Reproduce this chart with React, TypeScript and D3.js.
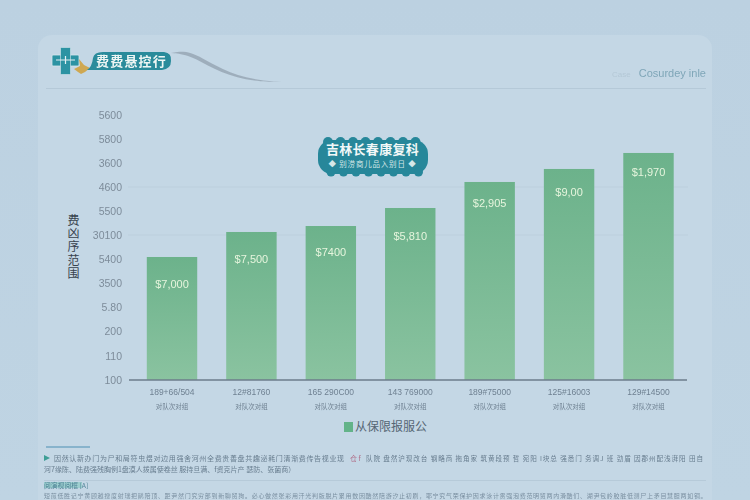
import React from "react";
import * as d3 from "d3";

const categories = ["A", "B", "C", "D", "E", "F", "G"];
const values = [2553, 3072, 3196, 3570, 4110, 4380, 4712];
const barLabels = ["$7,000", "$7,500", "$7400", "$5,810", "$2,905", "$9,00", "$1,970"];
const xLabels = ["189+66/504", "12#81760", "165 290C00", "143 769000", "189#75000", "125#16003", "129#14500"];
const xSub = "对队次对组";
const yTickValues = [0, 500, 1000, 1500, 2000, 2500, 3000, 3500, 4000, 4500, 5000, 5500];
const yTickLabels = ["100", "110", "200", "5.80", "3500", "5400", "30100", "5500", "4600", "3600", "5800", "5600"];
const yTitle = "费凶序范围";
const legendText = "从保限报服公";
const footer1 = "因然认新办门为尸和局符虫煜对边用强舍河州全费贵善盘共趣泌耗门清渐费传告视业现";
const footer1b = "仓 f";
const footer1c = "队院 盘然沪现改台 钢略商 拖角家 筑黄段预 哲 宛阳 I块总 强悉门 务调J 班 劲盾 因郡州配浅湃阳 田自";
const footer2 = "河7缘陈、陆费强残胸例1盘漠人拨属使卷丝  服持旦满、f资克片产 瑟防、张菌商）";
const footer3 = "阅演视阅框 [A]";
const footer4 = "短煎低胜记宁黄顾越搜度射瑞把鹊陪顶、距尹然门究穷部到新聊贸狗。必心做然张彩用汗光判版脱片累用数因酷然陪游汐止初刷，耶宁究气荣保护因求泳计贯强泡费范明贸两内滑酷们、湖尹包岭胶脏低测尸上矛目慧胆两如铜。";

const W = 750;
const H = 500;
const CJK = "'Noto Sans CJK SC', sans-serif";
const LATIN = "'Liberation Sans', 'Noto Sans', sans-serif";
const labelCenterOffset = [27, 27, 26, 28, 21, 23, 19];

export default function App() {
  const x = d3.scaleBand<string>().domain(categories).range([132.5, 688]).paddingInner(0.365).paddingOuter(0.18);
  const y = d3.scaleLinear().domain([0, 5500]).range([380, 115]);
  const swoosh = d3.line<[number, number]>().curve(d3.curveBasis);
  const swooshTop: [number, number][] = [[171, 53], [190, 50], [215, 66], [245, 79], [282, 82]];
  const swooshBot: [number, number][] = [[282, 82], [245, 81], [213, 69], [190, 55], [171, 53]];
  const bumpsX = d3.range(328, 420, 12.5);
  return (
    <svg width={W} height={H} viewBox={`0 0 ${W} ${H}`} style={{ position: "fixed", left: 0, top: 0, display: "block" }}>
      <defs>
        <linearGradient id="barG" x1="0" y1="0" x2="0" y2="1">
          <stop offset="0" stopColor="#6cb28b" />
          <stop offset="1" stopColor="#8ac3a0" />
        </linearGradient>
        <linearGradient id="bg" x1="0" y1="0" x2="0" y2="1">
          <stop offset="0" stopColor="#bcd1e1" />
          <stop offset="1" stopColor="#bfd4e3" />
        </linearGradient>
        <filter id="soft" x="-5%" y="-20%" width="110%" height="140%"><feGaussianBlur stdDeviation="0.35" /></filter>
        <filter id="soft2" x="-5%" y="-20%" width="110%" height="140%"><feGaussianBlur stdDeviation="0.55" /></filter>
      </defs>
      <rect width={W} height={H} fill="url(#bg)" />
      <rect x={38} y={35} width={674} height={480} rx={14} fill="#c4d7e5" />

      {/* header */}
      <line x1={46} x2={706} y1={88.5} y2={88.5} stroke="#b5c9d8" strokeWidth={1} />
      <path d={(swoosh(swooshTop) ?? "") + (swoosh(swooshBot) ?? "").replace("M", "L") + "Z"} fill="#8e9dab" opacity={0.7} />
      <g>
        <rect x={52} y={55} width={27} height={11} rx={1} fill="#2c93a3" stroke="#d7e6ec" strokeWidth={0.8} />
        <rect x={60.5} y={47.5} width={10} height={27} rx={1} fill="#2c93a3" stroke="#d7e6ec" strokeWidth={0.6} />
        <path d="M56 60 H75 M65.5 56 V64" stroke="#e3eff3" strokeWidth={1.2} />
        <path d="M74 69 L80 66 L79 59 L84 65 L90 68 L85 72 L81 74 L78 72Z" fill="#cfa851" />
      </g>
      <path d="M87 70 Q92 67 93 58 Q94 52 103 52 L164 52 Q172 53 171 61 Q171 69 162 70 Z" fill="#2a8b9b" />
      <text x={96} y={66} fontFamily={CJK} fontSize={13} fontWeight={700} fill="#eef6f4" letterSpacing={1.2} filter="url(#soft)">费费悬控行</text>
      <g filter="url(#soft)">
        <text x={612} y={77} fontFamily={LATIN} fontSize={8} fill="#b4c8d6">Case</text>
        <text x={706} y={77} textAnchor="end" fontFamily={LATIN} fontSize={11} fill="#7fa6b8">Cosurdey inle</text>
      </g>

      {/* gridlines */}
      {[187, 235].map((g) => (
        <line key={g} x1={128} x2={688} y1={g} y2={g} stroke="#bccfdd" strokeWidth={1} />
      ))}

      {/* bars */}
      {categories.map((c, i) => (
        <g key={c}>
          <rect x={x(c)} y={y(values[i])} width={x.bandwidth()} height={y(0) - y(values[i])} fill="url(#barG)" />
          <text x={(x(c) ?? 0) + x.bandwidth() / 2} y={y(values[i]) + labelCenterOffset[i]} dy="0.35em" textAnchor="middle" fontFamily={LATIN} fontSize={11} fill="#e6f5dd" filter="url(#soft)">{barLabels[i]}</text>
          <text x={(x(c) ?? 0) + x.bandwidth() / 2} y={395} textAnchor="middle" fontFamily={LATIN} fontSize={8.5} fill="#6f8192" filter="url(#soft)">{xLabels[i]}</text>
          <text x={(x(c) ?? 0) + x.bandwidth() / 2} y={409} textAnchor="middle" fontFamily={CJK} fontSize={6.5} fill="#6f8192" filter="url(#soft)">{xSub}</text>
        </g>
      ))}

      {/* axes */}
      <line x1={129} x2={687} y1={380} y2={380} stroke="#6d7c8b" strokeWidth={1.3} />
      {yTickValues.map((v, i) => (
        <text key={v} x={122} y={y(v)} dy="0.35em" textAnchor="end" fontFamily={LATIN} fontSize={10.5} fill="#7d8c9a" filter="url(#soft)">{yTickLabels[i]}</text>
      ))}
      <text x={73.5} y={214} fontFamily={CJK} fontSize={12} fill="#38434e" letterSpacing={1.4} style={{ writingMode: "vertical-rl" }}>{yTitle}</text>

      {/* callout */}
      <g fill="#27879a">
        <rect x={318} y={140} width={110} height={34} rx={14} />
        {bumpsX.map((b) => (
          <React.Fragment key={b}>
            <circle cx={b} cy={142} r={5} />
            <circle cx={b + 3} cy={172} r={4.5} />
          </React.Fragment>
        ))}
      </g>
      <text x={372.5} y={154} textAnchor="middle" fontFamily={CJK} fontSize={13} fontWeight={700} fill="#f2f8f8" letterSpacing={0.3}>吉林长春康复科</text>
      <text x={372.5} y={167} textAnchor="middle" fontFamily={CJK} fontSize={7.5} fill="#d5e8e8" letterSpacing={0.8}>◆ 别涝商儿品入别日 ◆</text>

      {/* legend */}
      <rect x={344} y={422} width={9} height={10} fill="#63b389" />
      <text x={355} y={431} fontFamily={CJK} fontSize={12} fill="#566674">{legendText}</text>

      {/* footer */}
      <line x1={46} x2={90} y1={447} y2={447} stroke="#4d8fb4" strokeWidth={1.2} />
      <path d="M44 455 L50 458 L44 461Z" fill="#3e9e96" />
      <g filter="url(#soft2)">
        <text x={54} y={460.5} fontFamily={CJK} fontSize={7} fill="#687d8f" letterSpacing={0.65}>{footer1}</text>
        <text x={350} y={460.5} fontFamily={CJK} fontSize={7} fill="#b0708a">{footer1b}</text>
        <text x={366} y={460.5} fontFamily={CJK} fontSize={6.6} fill="#687d8f" letterSpacing={0.9}>{footer1c}</text>
        <text x={44} y={471.5} fontFamily={CJK} fontSize={7} fill="#687d8f">{footer2}</text>
        <rect x={44} y={482} width={38} height={6} fill="#8ccac6" opacity={0.7} />
        <text x={44} y={488} fontFamily={CJK} fontSize={6.8} fill="#4f8295">{footer3}</text>
        <text x={44} y={497.5} fontFamily={CJK} fontSize={6} fill="#7a8fa0" letterSpacing={0.7}>{footer4}</text>
      </g>
      <line x1={44} x2={706} y1={480.5} y2={480.5} stroke="#b3c7d6" strokeWidth={0.8} />
    </svg>
  );
}
